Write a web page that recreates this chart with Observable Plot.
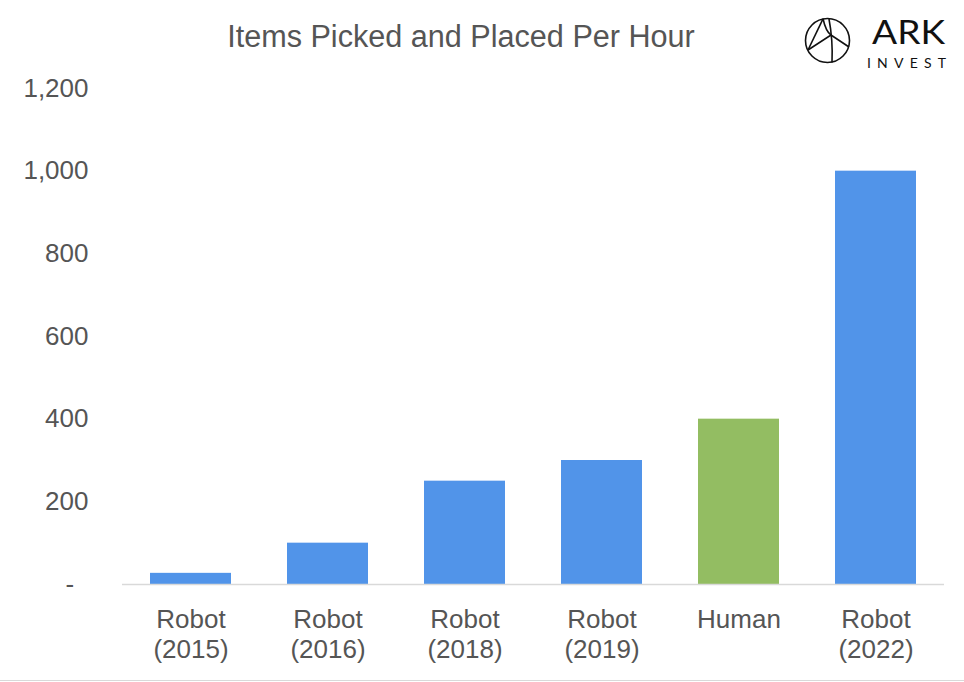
<!DOCTYPE html>
<html>
<head>
<meta charset="utf-8">
<script src="https://cdn.jsdelivr.net/npm/d3@7"></script>
<script src="https://cdn.jsdelivr.net/npm/@observablehq/plot@0.6"></script>
<style>
  html, body { margin: 0; padding: 0; background: #fff; }
  #wrap { position: relative; width: 964px; height: 682px; overflow: hidden; }
  #overlay { position: absolute; left: 0; top: 0; pointer-events: none; }
  #bottomline { position: absolute; left: 0; top: 680px; width: 964px; height: 1px; background: #d9d9d9; }
</style>
</head>
<body>
<div id="wrap">
  <div id="chart"></div>
  <svg id="overlay" width="964" height="682" xmlns="http://www.w3.org/2000/svg">
    <text x="461" y="47" text-anchor="middle" font-family="'Liberation Sans', Arial, Helvetica, sans-serif" font-size="30.6" fill="#555">Items Picked and Placed Per Hour</text>
    <g fill="none" stroke="#111" stroke-width="1.6">
      <circle cx="827.5" cy="40.5" r="22"/>
      <path d="M823 18.8 L808 50"/>
      <path d="M829 19 Q833 40 832 62.5"/>
      <path d="M808 50 L831 35 L849 47"/>
      <path d="M823 18.8 Q826 32 831 35"/>
    </g>
    <text x="872" y="43.5" font-family="Lato, 'Open Sans', sans-serif" font-weight="400" font-size="32" fill="#111" textLength="73" lengthAdjust="spacingAndGlyphs">ARK</text>
    <text x="867" y="68" font-family="Lato, 'Open Sans', sans-serif" font-weight="400" font-size="14" fill="#111" textLength="79" lengthAdjust="spacing">INVEST</text>
  </svg>
  <div id="bottomline"></div>
</div>
<script>
const categories = ["Robot\n(2015)", "Robot\n(2016)", "Robot\n(2018)", "Robot\n(2019)", "Human", "Robot\n(2022)"];
const values = [27, 100, 250, 300, 400, 1000];
const kinds = ["robot", "robot", "robot", "robot", "human", "robot"];
const yTicks = [0, 200, 400, 600, 800, 1000, 1200];

const data = categories.map((c, i) => ({category: c, value: values[i], kind: kinds[i]}));

const chart = Plot.plot({
  width: 964,
  height: 682,
  marginLeft: 122,
  marginRight: 20,
  marginTop: 88,
  marginBottom: 98,
  style: {fontFamily: "'Liberation Sans', Arial, Helvetica, sans-serif", fontSize: "26px", color: "#555", background: "transparent"},
  x: {domain: categories, paddingInner: 0.41, paddingOuter: 0.205, label: null},
  y: {domain: [0, 1200], label: null},
  color: {domain: ["robot", "human"], range: ["#5194E9", "#93BD62"]},
  marks: [
    Plot.barY(data, {x: "category", y: "value", fill: "kind"}),
    Plot.ruleY([0], {stroke: "#d9d9d9", strokeWidth: 1.5}),
    Plot.axisY({ticks: yTicks, tickSize: 0, tickPadding: 34, fontSize: 26, fill: "#555",
      tickFormat: d => d === 0 ? "-\u00a0\u00a0" : d3.format(",")(d)}),
    Plot.axisX({tickSize: 0, tickPadding: 23, fontSize: 26, fill: "#555", lineHeight: 1.13, lineAnchor: "top"})
  ]
});
document.getElementById("chart").appendChild(chart);
</script>
</body>
</html>
